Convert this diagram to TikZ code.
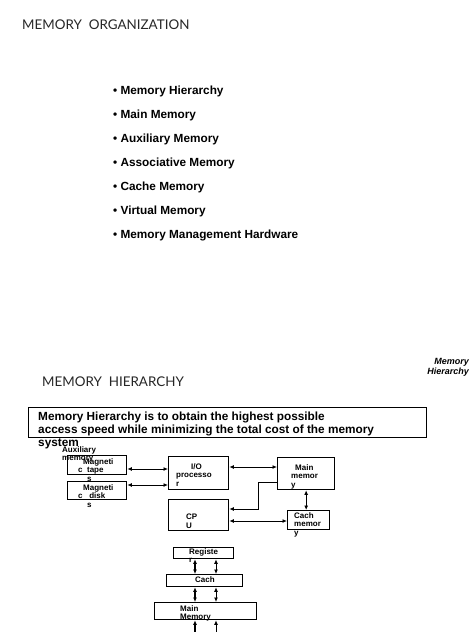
\documentclass[tikz,border=0pt]{standalone}
\usepackage{fontspec}
\setmainfont{Liberation Sans}
\newfontfamily\titlefont{Lato}
\usepackage{tikz}
\usetikzlibrary{arrows.meta,positioning}

\tikzset{
    headline/.style={font=\titlefont\fontsize{13.4}{16}\selectfont, text=black!85, anchor=west, inner sep=0pt},
    point/.style={font=\bfseries\fontsize{11.8}{13}\selectfont, anchor=west, inner sep=0pt},
    unit/.style={draw, line width=1.3pt, inner sep=0pt, anchor=north west},
    tiny/.style={font=\bfseries\fontsize{8}{8.8}\selectfont, align=left, inner sep=0pt, anchor=north west},
    both/.style={{Latex[length=4.5pt,width=4pt]}-{Latex[length=4.5pt,width=4pt]}, line width=0.9pt},
    bothbold/.style={both, line width=1.7pt}
}

\begin{document}
\begin{tikzpicture}[x=1pt,y=-1pt]
    \useasboundingbox (0,0) rectangle (474,632);

    % slide 1
    \node[headline] (title) at (22,25) {MEMORY\ \ ORGANIZATION};
    \foreach \txt [count=\i] in {Memory Hierarchy, Main Memory, Auxiliary Memory,
        Associative Memory, Cache Memory, Virtual Memory, Memory Management Hardware} {
        \node[point] (item\i) at (113,{91+24*(\i-1)}) {\textbullet\ \txt};
    }

    % slide 2
    \node[font=\bfseries\itshape\fontsize{9}{10}\selectfont, align=right, anchor=north east, inner sep=0pt]
        (side) at (469,358) {Memory\\Hierarchy};
    \node[headline] (head2) at (42,382) {MEMORY\ \ HIERARCHY};

    \node[unit, minimum width=398, minimum height=30] (defbox) at (28,407) {};
    \node[font=\bfseries\fontsize{11.8}{13}\selectfont, align=left, inner sep=0pt, anchor=north west]
        (deftext) at (38,412) {Memory Hierarchy is to obtain the highest possible\\
        access speed while minimizing the total cost of the memory\\system};

    % boxes
    \node[unit, minimum width=59, minimum height=19] (tape) at (67,455) {};
    \node[unit, minimum width=59, minimum height=18] (disk) at (67,481) {};
    \node[unit, minimum width=60, minimum height=33] (io) at (168,456) {};
    \node[unit, minimum width=57, minimum height=32] (main) at (277,457) {};
    \node[unit, minimum width=60, minimum height=31] (cpu) at (168,499) {};
    \node[unit, minimum width=42, minimum height=19] (cache) at (287,510) {};

    \node[tiny] (auxtext) at (62,446) {Auxiliary\\memory};
    \node[tiny] (tapetext) at (78,458) {\hspace{5pt}Magneti\\c\ \ tape\\\hspace{9pt}s};
    \node[tiny] (disktext) at (78,484) {\hspace{5pt}Magneti\\c\ \ \ disk\\\hspace{9pt}s};
    \node[tiny] (iotext) at (176,463) {\hspace{15pt}I/O\\processo\\r};
    \node[tiny] (maintext) at (291,464) {\hspace{4pt}Main\\memor\\y};
    \node[tiny] (cputext) at (186,514) {CP\\U};
    \node[tiny] (cachetext) at (294,512) {Cach\\memor\\y};

    % connections
    \draw[both] (tape.east |- 0,469) -- (io.west |- 0,469);
    \draw[both] (disk.east |- 0,485) -- (io.west |- 0,485);
    \draw[both] (io.east |- 0,467) -- (main.west |- 0,467);
    \draw[both] (main.south) -- (main.south |- cache.north);
    \draw[-{Latex[length=4.5pt,width=4pt]}, line width=0.9pt]
        (main.west |- 0,482) -| (258,509) -- (cpu.east |- 0,509);
    \draw[both] (cpu.east |- 0,521) -- (cache.west |- 0,521);

    % stack
    \node[unit, minimum width=60, minimum height=11] (reg) at (173,547) {};
    \node[unit, minimum width=76, minimum height=12] (cache2) at (166,574) {};
    \node[unit, minimum width=102, minimum height=17] (mem2) at (154,602) {};
    \node[tiny] (regtext) at (189,548) {Registe\\r};
    \node[tiny] (cache2text) at (195,576) {Cach};
    \node[tiny, font=\bfseries\fontsize{8}{8}\selectfont] (mem2text) at (180,605) {Main\\Memory};
    \coordinate (outl) at (195,640);
    \coordinate (outr) at (216,640);

    \draw[bothbold] (reg.south -| 195,0) -- (cache2.north -| 195,0);
    \draw[both] (reg.south -| 216,0) -- (cache2.north -| 216,0);
    \draw[bothbold] (cache2.south -| 195,0) -- (mem2.north -| 195,0);
    \draw[both] (cache2.south -| 216,0) -- (mem2.north -| 216,0);
    \draw[bothbold] (mem2.south -| outl) -- (outl);
    \draw[both] (mem2.south -| outr) -- (outr);
\end{tikzpicture}
\end{document}
